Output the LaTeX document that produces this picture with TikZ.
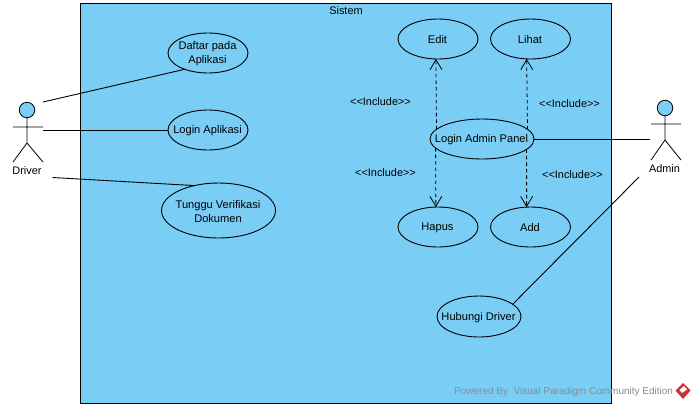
\documentclass[tikz,border=0pt]{standalone}
\usepackage{fontspec}
\setmainfont{Liberation Sans}
\usetikzlibrary{arrows.meta,shapes.geometric}
\definecolor{sysblue}{RGB}{122,205,245}
\definecolor{vpgray}{RGB}{135,140,145}
\definecolor{vpred}{RGB}{200,50,50}
\tikzset{
  usecase/.style={ellipse,draw=black,line width=0.9pt,fill=sysblue,inner sep=0pt,outer sep=0pt},
  uctext/.style={inner sep=0pt,align=center,yshift=-0.8pt,xshift=-0.5pt,font=\fontsize{11.1}{14.5}\selectfont},
  txt/.style={inner sep=0pt,font=\fontsize{10.9}{13}\selectfont},
  conn/.style={draw=black,line width=0.9pt},
  incl/.style={draw=black,line width=0.8pt,dash pattern=on 3.5pt off 3pt,
    -{Straight Barb[length=10pt,width=12pt,line width=0.8pt]}},
  stick/.style={draw=black,line width=0.8pt},
}
\begin{document}
\begin{tikzpicture}[x=1pt,y=-1pt]
\useasboundingbox (0,0) rectangle (695,408);
\fill[white] (0,0) rectangle (695,408);
\node[draw=black,line width=1pt,fill=sysblue,minimum width=531.5pt,minimum height=400pt,inner sep=0pt] (sys) at (346.2,203) {};
\node[txt] (systitle) at (346,10.5) {Sistem};
% use cases
\node[usecase,minimum width=80pt,minimum height=40pt,label={[uctext]center:Daftar pada\\Aplikasi}] (daftar) at (208,53) {};
\node[usecase,minimum width=80pt,minimum height=40pt,label={[uctext]center:Login Aplikasi}] (login) at (208,130) {};
\node[usecase,minimum width=114pt,minimum height=55pt,label={[uctext]center:Tunggu Verifikasi\\Dokumen}] (tunggu) at (218.5,210.5) {};
\node[usecase,minimum width=80pt,minimum height=40pt,label={[uctext]center:Edit}] (edit) at (438,39) {};
\node[usecase,minimum width=80pt,minimum height=40pt,label={[uctext]center:Lihat}] (lihat) at (530.5,39) {};
\node[usecase,minimum width=104pt,minimum height=40pt,label={[uctext]center:Login Admin Panel}] (lap) at (482,139) {};
\node[usecase,minimum width=80pt,minimum height=40pt,label={[uctext]center:Hapus}] (hapus) at (438,227) {};
\node[usecase,minimum width=80pt,minimum height=40pt,label={[uctext]center:Add}] (add) at (530.5,227) {};
\node[usecase,minimum width=84pt,minimum height=41pt,label={[uctext]center:Hubungi Driver}] (hub) at (479,316.5) {};
% actors
\node[circle,draw=black,line width=0.8pt,fill=sysblue,minimum size=15.5pt,inner sep=0pt] (dhead) at (27,110) {};
\draw[stick] (13,127) -- (43,127) (dhead.south) -- (27,143) -- (13,162) (27,143) -- (43,162);
\node[txt] (dlabel) at (27,170.5) {Driver};
\node[circle,draw=black,line width=0.8pt,fill=sysblue,minimum size=15.5pt,inner sep=0pt] (ahead) at (665,108) {};
\draw[stick] (651,124) -- (681,124) (ahead.south) -- (665,140) -- (651,160) (665,140) -- (681,160);
\node[txt] (alabel) at (664.5,168.5) {Admin};
% connector ends at actors
\coordinate (d1) at (43,102);
\coordinate (d2) at (43,130);
\coordinate (d3) at (52.5,177.5);
\coordinate (a1) at (650,139);
\coordinate (a2) at (639,177);
\draw[conn] (d1) -- (daftar.215);
\draw[conn] (d2) -- (login.west);
\draw[conn] (d3) -- (tunggu.134);
\draw[conn] (lap.east) -- (a1);
\draw[conn] (hub.20) -- (a2);
% includes
\draw[incl] (lap.168.5) -- (edit.264);
\draw[incl] (lap.12.5) -- (lihat.259);
\draw[incl] (lap.191.5) -- (hapus.96);
\draw[incl] (lap.347.5) -- (add.101);
\node[txt] (i1) at (380.5,101.7) {<{}<Include>{}>};
\node[txt] (i2) at (569.5,103.7) {<{}<Include>{}>};
\node[txt] (i3) at (385.5,172.7) {<{}<Include>{}>};
\node[txt] (i4) at (572.5,174.7) {<{}<Include>{}>};
% watermark
\node[inner sep=0pt,text=vpgray,anchor=west,font=\fontsize{10}{12}\selectfont] (wm) at (454,391.5) {Powered By\ \ Visual Paradigm Community Edition};
\fill[vpred] (683,383) -- (690.5,390.5) -- (683,399) -- (675.5,390.5) -- cycle;
\fill[white] (684,386) -- (687,389.5) -- (682,393) -- (679.5,390) -- cycle;
\end{tikzpicture}
\end{document}
